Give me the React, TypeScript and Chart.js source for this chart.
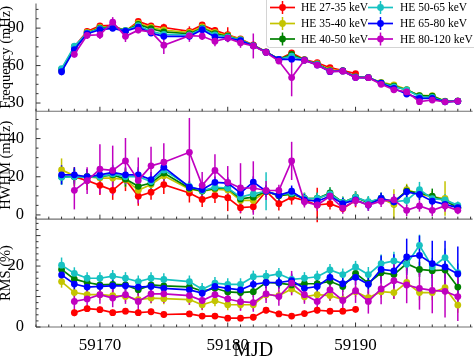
import React, { useEffect, useRef } from 'react';
import { Chart, registerables } from 'chart.js';
Chart.register(...registerables);

const FONT = '"Liberation Serif", "Times New Roman", Times, serif';

const MJD = [59167, 59168, 59169, 59170, 59171, 59172, 59173, 59174, 59175, 59177, 59178, 59179, 59180, 59181, 59182, 59183, 59184, 59185, 59186, 59187, 59188, 59189, 59190, 59191, 59192, 59193, 59194, 59195, 59196, 59197, 59198];

const BANDS = ['HE 27-35 keV', 'HE 35-40 keV', 'HE 40-50 keV', 'HE 50-65 keV', 'HE 65-80 keV', 'HE 80-120 keV'];
const COLORS = ['#ff0000', '#c4c400', '#008000', '#17c2c2', '#0000ff', '#c000c0'];

const X_TICKS = [59170, 59180, 59190];
const FREQ_TICKS = [30, 60, 90];
const HWHM_TICKS = [0, 20, 40];
const RMS_TICKS = [0, 10, 20, 30];

type Row = (number | null)[];
const N = null;

// Frequency (mHz)
const freq27: Row = [N, 75, 87.4, 91.8, 92.2, 87.6, 95.3, 91.8, 90.5, 87.4, 92.6, 88.2, 84.7, 81.3, 76.5, 71, 65, 70.2, 64.8, 62.3, 58.3, 56, 53.5, N, N, N, N, N, N, N, N];
const freq35: Row = [56, 74, 86.5, 90.5, 91.5, 88, 94, 90.5, 88.5, 86.5, 91, 86.5, 84, 81, 76, 70.8, 65, 68.5, 64.5, 61.5, 56.5, 55.8, 51, 50.5, 46.5, 44.6, 40.8, 35.9, 36, 31.5, 31.8];
const freq40: Row = [57, 74.5, 86, 90, 91, 88, 93, 89.5, 87, 85.5, 90, 85.5, 83.5, 80.5, 76, 70.8, 65, 68.9, 64.5, 61.2, 56, 55.8, 51, 50.4, 46.2, 43.5, 40.5, 35.9, 35.5, 31.3, 31.6];
const freq50: Row = [57.5, 75.5, 86, 89.5, 90.5, 88, 92, 87.5, 85, 84.5, 89.5, 84.5, 83, 80.5, 76, 70.7, 65, 67.6, 64.4, 61, 55.5, 55.7, 50.8, 50.4, 46, 43, 40.6, 35, 34.5, 31.2, 31.6];
const freq65: Row = [55.1, 72.8, 85.5, 88.7, 89.8, 87.6, 90.8, 86, 83.4, 83.4, 88.7, 82.9, 82, 80, 75.8, 70.7, 65, 65.1, 64.4, 60.4, 55.1, 55.7, 50.4, 50.4, 45.9, 41.7, 37.2, 33.7, 33.7, 31, 31.5];
const freq80: Row = [N, 69, 84.2, 84.7, 94.8, 83.4, 88.4, 87, 76.3, 84, 83.5, 79.5, 82, 78.2, 75.7, 70.5, 63.6, 50.4, 64.2, 60.4, 55.3, 55.5, 50.4, 50.3, 45, 40.6, 38.9, 31.1, 32.4, 31, 31.5];

const freqErr27: Row = [N, 3, 2.5, 2, 2, 2, 1.5, 2, 3, 4, 2, 2.5, 6, 1.5, 1.5, 1.5, 1.5, 2, 1.5, 1.5, 1.5, 1.5, 1.5, N, N, N, N, N, N, N, N];
const freqErr35: Row = [2, 2, 1.5, 1.5, 1.5, 1.5, 1.5, 1.5, 1.5, 1.5, 1.5, 1.5, 1.5, 1.2, 1.2, 1.2, 1.2, 1.5, 1.2, 1.2, 1.2, 1.2, 1.2, 1.2, 1.2, 1.5, 1.2, 1.5, 1.5, 1.2, 1.2];
const freqErr40: Row = [2, 2, 1.5, 1.5, 1.5, 1.5, 1.5, 1.5, 1.5, 1.5, 1.5, 1.5, 1.5, 1.2, 1.2, 1.2, 1.2, 1.5, 1.2, 1.2, 1.2, 1.2, 1.2, 1.2, 1.2, 1.5, 1.2, 1.5, 1.5, 1.2, 1.2];
const freqErr50: Row = [2, 2, 1.5, 1.5, 1.5, 1.5, 1.5, 1.5, 1.5, 1.5, 1.5, 1.5, 1.5, 1.2, 1.2, 1.2, 1.2, 1.5, 1.2, 1.2, 1.2, 1.2, 1.2, 1.2, 1.2, 1.5, 1.2, 1.5, 1.5, 1.2, 1.2];
const freqErr65: Row = [3, 2, 1.5, 1.5, 1.5, 1.5, 1.5, 1.5, 1.5, 1.5, 1.5, 1.5, 1.5, 1.2, 1.2, 1.2, 1.2, 1.5, 1.2, 1.2, 1.2, 1.2, 1.2, 1.2, 1.2, 1.5, 1.2, 1.5, 1.5, 1.2, 1.2];
const freqErr80: Row = [N, 2.5, 3, 3.5, 4, 4.5, 2.5, 2.5, 7, 5, 3, 4, 3, 4, 10, 1.5, 2, 15, 1.5, 2, 2, 1.5, 2, 1.5, 2, 2, 2, 2, 2, 1.5, 1.5];

// HWHM (mHz)
const hwhm27: Row = [N, 20, 18, 15.5, 12.9, 18.5, 9.8, 11.9, 15.9, 11.5, 8.1, 10.2, 9, 3.8, 4.3, 12.4, 5.9, 9.3, 7.6, 5.2, 5.9, 3.4, 7.6, N, N, N, N, N, N, N, N];
const hwhm35: Row = [23.6, 20.5, 20, 19.3, 19.3, 18.5, 12.9, 15.9, 20.5, 13.5, 12.5, 13.5, 13, 7.6, 7.6, 12.4, 10, 11, 8.6, 8.6, 11, 6.5, 9.3, 6.5, 8.6, 5.5, 13.3, 11, 9.5, 8.6, 3.8];
const hwhm40: Row = [20, 20, 20, 20, 21, 18.8, 15, 16.7, 21.9, 14, 12.5, 14, 14.1, 8.4, 9.3, 12.4, 10, 11, 8.6, 8.6, 11.5, 6.5, 9.3, 6.5, 8.6, 6.9, 12.5, 11.5, 9.8, 7.5, 3.8];
const hwhm50: Row = [19.7, 20, 19.8, 20, 21.5, 20, 20, 17.5, 23.5, 15, 12.8, 14.5, 14.1, 9.3, 11, 12.4, 10.5, 11.5, 8.6, 8.6, 11, 6.5, 9.3, 6.9, 8.6, 6.9, 7.6, 13.3, 8.5, 7.9, 5];
const hwhm65: Row = [21, 21, 20, 21, 22.3, 21, 21, 18.5, 25, 14.5, 13.3, 17.1, 16.7, 11.5, 17.2, 12.4, 10.3, 12.4, 7.9, 7.2, 9.8, 5.9, 7.9, 5.2, 8.6, 6.9, 12.1, 10.7, 7.2, 5.5, 3.8];
const hwhm80: Row = [N, 12.9, 18, 24, 23.3, 28.3, 18.1, 25.7, 27.6, 32.8, 15.5, 23.3, 17.1, 14.1, 14.1, 12.8, 12.8, 28.3, 6.9, 5.2, 9.8, 3.6, 7.6, 5.2, 7.2, 7.9, 2.4, 4.7, 2.4, 4.7, 2.4];

const hwhmErr27: Row = [N, 5, 5, 5, 5, 6, 5, 4, 5, 5, 4, 4, 7, 3, 3, 3, 3.6, 3.9, 3, 9, 3, 2, 3.6, N, N, N, N, N, N, N, N];
const hwhmErr35: Row = [6, 4, 4, 4, 4, 4, 4, 4, 4, 3, 3, 3, 3, 3, 3, 3, 3, 3, 3, 3, 3, 3, 3, 3, 3, 8, 3, 3, 3, 9, 2];
const hwhmErr40: Row = [4, 4, 4, 4, 4, 4, 4, 4, 4, 3, 3, 3, 3, 3, 3, 3, 3, 3, 3, 3, 3, 3, 3, 3, 3, 3, 3, 3, 4, 3, 2];
const hwhmErr50: Row = [4, 4, 4, 4, 4, 4, 4, 4, 4, 3, 3, 3, 3, 3, 3, 10, 3, 3, 3, 3, 3, 3, 3, 3, 3, 3, 3, 4, 3, 3, 2];
const hwhmErr65: Row = [5, 4, 4, 4, 4, 4, 4, 4, 4, 3, 3, 3, 3, 3, 3, 3, 3, 3, 3, 3, 3, 3, 3, 3, 3, 3, 3, 3, 3, 3, 2];
const hwhmErr80: Row = [N, 10, 7, 13, 13, 12, 12, 10, 10, 18, 7, 8.5, 8.5, 13, 14, 5, 3, 10, 3, 3, 3, 3, 3, 3, 3, 3, 3, 3, 3, 3, 2];

// RMS (%)
const rms27: Row = [N, 4.7, 6.0, 5.7, 4.7, 5.2, 4.7, 5.0, 4.1, 4.3, 3.6, 3.6, 2.9, 2.9, 3.2, 5.5, 4.3, 3.6, 4.4, 5.5, 5.2, 5.2, 5.8, N, N, N, N, N, N, N, N];
const rms35: Row = [14.9, 11.3, 10.6, 10.6, 10.3, 10, 9, 9.5, 9.3, 9.0, 7.3, 8.6, 7.3, 7.3, 7.3, 10.6, 10.3, 12.5, 9.9, 10.6, 10.3, 9.0, 11.6, 9.6, 11.6, 11.3, 14.6, 11.3, 11.3, 12.9, 7.2];
const rms40: Row = [18.9, 15.7, 14.6, 13.8, 14, 13.8, 12.2, 13.8, 13.5, 13.2, 11.8, 12.7, 11.5, 11.3, 11.6, 14.6, 14.4, 13.8, 14.2, 14.2, 15.0, 13.3, 17.6, 14.4, 17.8, 17.2, 20.8, 18.9, 18.5, 18.7, 13.1];
const rms50: Row = [20.3, 17.6, 16, 16, 16.7, 16, 14.9, 16, 15.6, 14.9, 12.4, 14.4, 14, 14, 16.5, 16.7, 17.4, 15.6, 16, 16.5, 18.7, 17.2, 19.7, 17.2, 20.8, 21.7, 20.6, 26.8, 19.7, 22.8, 17.8];
const rms65: Row = [17.1, 14.1, 13.1, 13.3, 13.5, 13.5, 13.1, 13.3, 12.7, 12.2, 11.1, 13.3, 12.7, 12.2, 14, 14.6, 14.6, 15.2, 12.7, 13.3, 16.3, 14.2, 16.3, 14, 18.9, 18.4, 23, 23.5, 20.8, 19.7, 17.4];
const rms80: Row = [N, 8.4, 9.2, 10.6, 9.5, 10.6, 8.4, 10.9, 10.9, 10.3, 8.7, 10.6, 9.2, 8.3, 8.0, 10.9, 10, 14.4, 10.6, 8.4, 12.2, 8.7, 11.9, 8.4, 12.5, 15.2, 13.8, 12.7, 12, 11.7, 10];

const rmsErr27: Row = [N, 1.2, 1, 1, 1, 1, 1, 1, 1, 1, 1, 1, 1, 1, 1, 1, 1, 1, 1, 1, 1, 1, 1, N, N, N, N, N, N, N, N];
const rmsErr35: Row = [2, 2, 1.8, 1.8, 1.8, 1.8, 1.8, 1.8, 1.8, 1.8, 1.8, 1.8, 1.8, 1.8, 1.8, 1.8, 1.8, 1.8, 1.8, 1.8, 1.8, 1.8, 1.8, 2, 2, 2, 2, 2.5, 2.5, 2.5, 2.5];
const rmsErr40: Row = [2, 2, 1.8, 1.8, 1.8, 1.8, 1.8, 1.8, 1.8, 1.8, 1.8, 1.8, 1.8, 1.8, 1.8, 1.8, 1.8, 1.8, 1.8, 1.8, 1.8, 1.8, 2, 2, 2.5, 2.5, 2.5, 2.5, 2.5, 2.5, 2.5];
const rmsErr50: Row = [2.5, 2, 2, 2, 2, 2, 2, 2, 2, 2, 2, 2, 2, 2, 2, 2, 2, 2, 2, 2, 2, 2, 2, 2.5, 3, 3, 3, 3.5, 3, 3, 3];
const rmsErr65: Row = [2, 2, 2, 2, 2, 2, 2, 2, 2, 2, 2, 2, 2, 2, 2, 2, 2, 2, 2, 2, 2, 2, 2.5, 3, 4.6, 5.5, 6, 6.5, 7.5, 8.6, 9];
const rmsErr80: Row = [N, 2.5, 3, 3, 3, 3, 3, 3, 3, 3, 3, 3, 3, 3, 3, 3, 3, 4, 3, 3, 3.5, 3.5, 4, 4, 5, 6, 6, 7, 7.5, 8.6, 8];

// Panels listed top to bottom
const PANELS = [
  { id: 'yF', title: 'Frequency (mHz)', min: 23.4, max: 109.8, ticks: FREQ_TICKS, minor: 7.5,
    series: [freq27, freq35, freq40, freq50, freq65, freq80],
    errs: [freqErr27, freqErr35, freqErr40, freqErr50, freqErr65, freqErr80] },
  { id: 'yH', title: 'HWHM (mHz)', min: -2.2, max: 54.3, ticks: HWHM_TICKS, minor: 5,
    series: [hwhm27, hwhm35, hwhm40, hwhm50, hwhm65, hwhm80],
    errs: [hwhmErr27, hwhmErr35, hwhmErr40, hwhmErr50, hwhmErr65, hwhmErr80] },
  { id: 'yR', title: 'RMS (%)', min: 0, max: 35.4, ticks: RMS_TICKS, minor: 2,
    series: [rms27, rms35, rms40, rms50, rms65, rms80],
    errs: [rmsErr27, rmsErr35, rmsErr40, rmsErr50, rmsErr65, rmsErr80] },
];

const AXIS_COLOR = '#707070';
const TICK_COLOR = '#333333';
const POINT_R = 3.4;

const errorBarPlugin = {
  id: 'errorBars',
  beforeDatasetsDraw(chart: any) {
    const ctx = chart.ctx;
    ctx.save();
    chart.data.datasets.forEach((ds: any, i: number) => {
      const meta = chart.getDatasetMeta(i);
      const ys = chart.scales[ds.yAxisID];
      ctx.strokeStyle = ds.borderColor;
      ctx.lineWidth = 1.5;
      ds.data.forEach((p: any, j: number) => {
        const e = ds.errors[j];
        if (p.y == null || e == null) return;
        const el = meta.data[j];
        if (!el) return;
        const x = el.x;
        ctx.beginPath();
        ctx.moveTo(x, ys.getPixelForValue(p.y - e));
        ctx.lineTo(x, ys.getPixelForValue(p.y + e));
        ctx.stroke();
      });
    });
    ctx.restore();
  },
};

const axesPlugin = {
  id: 'axesFrame',
  afterDatasetsDraw(chart: any) {
    const ctx = chart.ctx;
    const area = chart.chartArea;
    const xs = chart.scales.x;
    const line = (x1: number, y1: number, x2: number, y2: number) => {
      ctx.beginPath();
      ctx.moveTo(x1, y1);
      ctx.lineTo(x2, y2);
      ctx.stroke();
    };
    ctx.save();
    ctx.lineWidth = 1.2;
    ctx.strokeStyle = AXIS_COLOR;
    line(area.left, area.top, area.left, area.bottom);
    PANELS.forEach((p) => {
      const ys = chart.scales[p.id];
      const yb = ys.bottom;
      ctx.strokeStyle = AXIS_COLOR;
      ctx.lineWidth = 1.2;
      line(area.left, yb, area.right + 2, yb);
      ctx.strokeStyle = TICK_COLOR;
      ctx.lineWidth = 1;
      for (let d = Math.ceil(xs.min); d <= xs.max; d++) {
        const px = xs.getPixelForValue(d);
        const major = d % 10 === 0;
        line(px, yb, px, yb - (major ? 4.5 : 2.5));
      }
      const start = Math.ceil(ys.min / p.minor) * p.minor;
      for (let v = start; v <= ys.max + 1e-9; v += p.minor) {
        const py = ys.getPixelForValue(v);
        const major = p.ticks.some((t) => Math.abs(t - v) < 1e-6);
        line(area.left, py, area.left + (major ? 4.5 : 2.5), py);
      }
    });
    ctx.restore();
  },
};

const legendPlugin = {
  id: 'customLegend',
  afterDraw(chart: any) {
    const ctx = chart.ctx;
    ctx.save();
    const bx = 266.5, by = -5, bw = 220, bh = 52.5, r = 3;
    ctx.beginPath();
    ctx.moveTo(bx + r, by);
    ctx.lineTo(bx + bw, by);
    ctx.lineTo(bx + bw, by + bh);
    ctx.lineTo(bx + r, by + bh);
    ctx.arcTo(bx, by + bh, bx, by + bh - r, r);
    ctx.lineTo(bx, by + r);
    ctx.arcTo(bx, by, bx + r, by, r);
    ctx.closePath();
    ctx.fillStyle = 'rgba(255,255,255,0.85)';
    ctx.fill();
    ctx.strokeStyle = '#d4d4d4';
    ctx.lineWidth = 1;
    ctx.stroke();
    const rows = [7.5, 23.5, 39];
    ctx.font = `11.5px ${FONT}`;
    ctx.textBaseline = 'middle';
    ctx.textAlign = 'left';
    BANDS.forEach((label, b) => {
      const col = b < 3 ? 0 : 1;
      const y = rows[b % 3];
      const x0 = col ? 368 : 270;
      const cx = x0 + 12.5;
      ctx.strokeStyle = COLORS[b];
      ctx.fillStyle = COLORS[b];
      ctx.lineWidth = 1.7;
      ctx.beginPath();
      ctx.moveTo(x0, y);
      ctx.lineTo(x0 + 25, y);
      ctx.stroke();
      ctx.lineWidth = 1.5;
      ctx.beginPath();
      ctx.moveTo(cx, y - 6.5);
      ctx.lineTo(cx, y + 6.5);
      ctx.stroke();
      ctx.beginPath();
      ctx.arc(cx, y, POINT_R, 0, Math.PI * 2);
      ctx.fill();
      ctx.fillStyle = '#000';
      ctx.fillText(label, col ? 400 : 301, y + 0.5);
    });
    ctx.restore();
  },
};

export default function App() {
  const ref = useRef<HTMLCanvasElement | null>(null);
  useEffect(() => {
    if (!ref.current) return;
    const datasets: any[] = [];
    PANELS.forEach((p) => {
      p.series.forEach((vals, b) => {
        datasets.push({
          label: BANDS[b],
          data: MJD.map((x, i) => ({ x, y: vals[i] })),
          errors: p.errs[b],
          yAxisID: p.id,
          borderColor: COLORS[b],
          backgroundColor: COLORS[b],
          borderWidth: 1.7,
          pointRadius: POINT_R,
          pointHoverRadius: POINT_R,
          pointBorderWidth: 0,
          pointStyle: 'circle',
          spanGaps: true,
          tension: 0,
          fill: false,
          order: 5 - b,
        });
      });
    });
    const scales: any = {
      x: {
        type: 'linear',
        position: 'bottom',
        min: 59165,
        max: 59199,
        grid: { display: false },
        border: { display: false },
        ticks: {
          font: { family: FONT, size: 17 },
          color: '#000',
          padding: 0,
          maxRotation: 0,
          autoSkip: false,
          callback: (v: any) => String(v),
        },
        afterBuildTicks: (s: any) => {
          s.ticks = X_TICKS.map((v) => ({ value: v }));
        },
        afterFit: (s: any) => {
          s.height = 36;
          s.paddingLeft = 0;
          s.paddingRight = 0;
        },
        title: {
          display: true,
          text: 'MJD',
          font: { family: FONT, size: 20 },
          color: '#000',
          padding: 0,
        },
      },
    };
    // Chart.js stacks left axes bottom-up in definition order, so define them bottom panel first
    [...PANELS].reverse().forEach((p) => {
      scales[p.id] = {
        type: 'linear',
        position: 'left',
        stack: 'panels',
        stackWeight: 1,
        min: p.min,
        max: p.max,
        grid: { display: false },
        border: { display: false },
        ticks: {
          font: { family: FONT, size: 16.5 },
          color: '#000',
          padding: 4,
          callback: (v: any) => String(v),
        },
        afterBuildTicks: (s: any) => {
          s.ticks = p.ticks.map((v) => ({ value: v }));
        },
        afterFit: (s: any) => {
          s.width = 36;
          s.paddingTop = 0;
          s.paddingBottom = 0;
        },
        title: {
          display: true,
          text: p.title,
          font: { family: FONT, size: 14.5, lineHeight: 1 },
          color: '#000',
          padding: { top: -1.5, bottom: 0 },
        },
      };
    });
    const chart = new Chart(ref.current, {
      type: 'line',
      data: { datasets },
      options: {
        responsive: false,
        animation: false,
        events: [],
        layout: { padding: 0 },
        plugins: { legend: { display: false }, tooltip: { enabled: false } },
        scales,
      } as any,
      plugins: [errorBarPlugin, axesPlugin, legendPlugin],
    });
    return () => chart.destroy();
  }, []);
  return (
    <div style={{ position: 'absolute', left: 0, top: 0, width: 474, height: 363, background: '#fff' }}>
      <canvas ref={ref} width={474} height={363} style={{ display: 'block' }} />
    </div>
  );
}
